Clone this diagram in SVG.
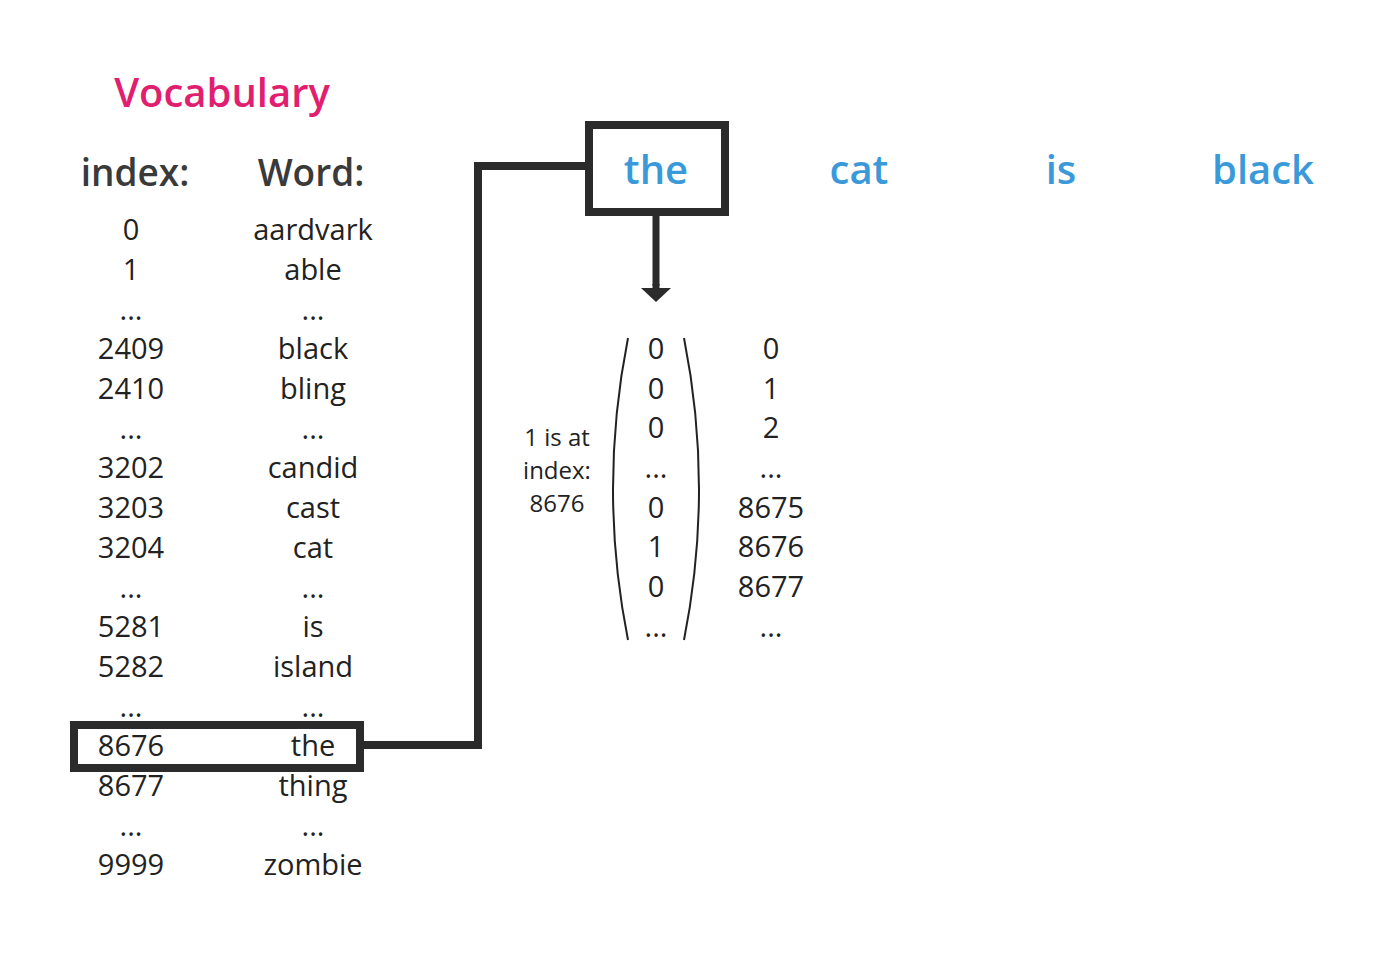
<svg xmlns="http://www.w3.org/2000/svg" width="1400" height="971" viewBox="0 0 1400 971">
<style>
text{font-family:"Open Sans","Noto Sans","Liberation Sans",sans-serif;text-anchor:middle;fill:#222}
.c{font-size:29px}
.h{font-size:37px;fill:#3a3a3a;font-weight:600}
.w{font-size:40px;fill:#3a9ad9;font-weight:600}
.s{font-size:24px}
.b{fill:none;stroke:#2b2b2b;stroke-width:8}
</style>
<defs><marker id="ar" markerWidth="8" markerHeight="8" refX="4" refY="4" orient="auto" markerUnits="userSpaceOnUse" viewBox="0 0 8 8"><path d="M0,0L8,4L0,8z" fill="#2b2b2b"/></marker></defs>
<text x="222" y="107" style="font-size:40px;fill:#e0206e;font-weight:600">Vocabulary</text>
<g id="vocab">
<text class="h" x="135" y="186">index:</text>
<text class="h" x="311" y="186">Word:</text>
<g class="c">
<text x="131" y="240">0</text><text x="313" y="240">aardvark</text>
<text x="131" y="280">1</text><text x="313" y="280">able</text>
<text x="131" y="320">...</text><text x="313" y="320">...</text>
<text x="131" y="359">2409</text><text x="313" y="359">black</text>
<text x="131" y="399">2410</text><text x="313" y="399">bling</text>
<text x="131" y="439">...</text><text x="313" y="439">...</text>
<text x="131" y="478">3202</text><text x="313" y="478">candid</text>
<text x="131" y="518">3203</text><text x="313" y="518">cast</text>
<text x="131" y="558">3204</text><text x="313" y="558">cat</text>
<text x="131" y="598">...</text><text x="313" y="598">...</text>
<text x="131" y="637">5281</text><text x="313" y="637">is</text>
<text x="131" y="677">5282</text><text x="313" y="677">island</text>
<text x="131" y="717">...</text><text x="313" y="717">...</text>
<text x="131" y="756">8676</text><text x="313" y="756">the</text>
<text x="131" y="796">8677</text><text x="313" y="796">thing</text>
<text x="131" y="836">...</text><text x="313" y="836">...</text>
<text x="131" y="875">9999</text><text x="313" y="875">zombie</text>
</g>
<rect class="b" x="74" y="725" width="286" height="43"/>
</g>
<g id="sentence">
<rect class="b" x="589" y="125" width="136" height="87"/>
<text class="w" x="656" y="184">the</text>
<text class="w" x="859" y="184">cat</text>
<text class="w" x="1061" y="184">is</text>
<text class="w" x="1263" y="184">black</text>
</g>
<g id="connectors">
<path class="b" d="M360,745H478V166H589"/>
<path d="M656,212V288" stroke="#2b2b2b" stroke-width="7" fill="none" marker-end="url(#ar)"/>
<path d="M641,288L656,302L671,288z" fill="#2b2b2b"/>
</g>
<g id="vector">
<path d="M628,338Q598,489 628,640" fill="none" stroke="#222" stroke-width="2"/>
<path d="M684,338Q714,489 684,640" fill="none" stroke="#222" stroke-width="2"/>
<g class="c">
<text x="656" y="359">0</text><text x="771" y="359">0</text>
<text x="656" y="399">0</text><text x="771" y="399">1</text>
<text x="656" y="438">0</text><text x="771" y="438">2</text>
<text x="656" y="478">...</text><text x="771" y="478">...</text>
<text x="656" y="518">0</text><text x="771" y="518">8675</text>
<text x="656" y="557">1</text><text x="771" y="557">8676</text>
<text x="656" y="597">0</text><text x="771" y="597">8677</text>
<text x="656" y="637">...</text><text x="771" y="637">...</text>
</g>
<text class="s" x="557" y="446">1 is at</text>
<text class="s" x="557" y="479">index:</text>
<text class="s" x="557" y="512">8676</text>
</g>
</svg>
